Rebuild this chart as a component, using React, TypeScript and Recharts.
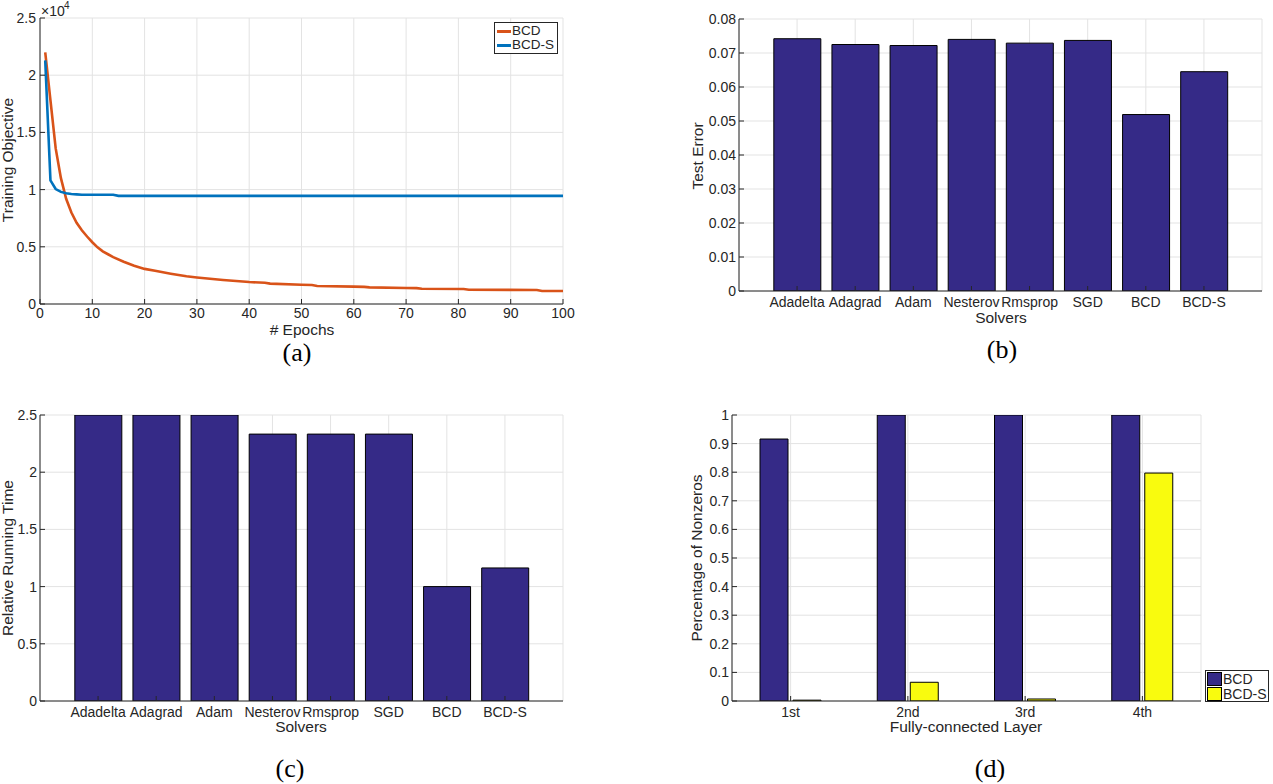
import React from 'react';
import { LineChart, Line, BarChart, Bar, XAxis, YAxis, CartesianGrid } from 'recharts';

const FONT = '"Liberation Sans", Arial, Helvetica, sans-serif';
const SERIF = '"Liberation Serif", "Times New Roman", serif';
const INK = '#262626';
const GRID = '#e3e3e3';
const NAVY = '#352A87';
const YELLOW = '#F9FB0E';
const ORANGE = '#D95319';
const BLUE = '#0072BD';

// (a) training objective vs epochs
const bcdEpochs = [1, 2, 3, 4, 5, 6, 7, 8, 9, 10, 11, 12, 13, 14, 16, 18, 20, 22, 25, 28, 30, 35, 40, 43, 44, 50, 52, 53, 60, 62, 63, 70, 72, 73, 81, 82, 95, 96, 100];
const bcdObjective = [22000, 17800, 13600, 11000, 9200, 8000, 7100, 6450, 5900, 5400, 4950, 4600, 4350, 4100, 3700, 3350, 3070, 2900, 2650, 2420, 2320, 2100, 1920, 1860, 1780, 1680, 1660, 1580, 1520, 1500, 1450, 1400, 1390, 1330, 1310, 1250, 1220, 1140, 1130];
const bcdsEpochs = [1, 2, 3, 4, 5, 6, 7, 8, 14, 15, 100];
const bcdsObjective = [21300, 10800, 10050, 9800, 9680, 9620, 9580, 9550, 9550, 9450, 9450];
const epochTicks = [0, 10, 20, 30, 40, 50, 60, 70, 80, 90, 100];
const objectiveTicks = [0, 5000, 10000, 15000, 20000, 25000];

// (b) and (c) solvers
const solvers = ['Adadelta', 'Adagrad', 'Adam', 'Nesterov', 'Rmsprop', 'SGD', 'BCD', 'BCD-S'];
const testError = [0.0742, 0.0725, 0.0722, 0.074, 0.0729, 0.0737, 0.0519, 0.0645];
const testErrorTicks = [0, 0.01, 0.02, 0.03, 0.04, 0.05, 0.06, 0.07, 0.08];
const relativeTime = [2.5, 2.5, 2.5, 2.333, 2.333, 2.333, 1.0, 1.163];
const timeTicks = [0, 0.5, 1, 1.5, 2, 2.5];

// (d) nonzeros per layer
const layers = ['1st', '2nd', '3rd', '4th'];
const nnzBCD = [0.916, 1, 1, 1];
const nnzBCDS = [0.003, 0.0655, 0.007, 0.797];
const nnzTicks = [0, 0.1, 0.2, 0.3, 0.4, 0.5, 0.6, 0.7, 0.8, 0.9, 1];

const bcdData = bcdEpochs.map((e, i) => ({ epoch: e, value: bcdObjective[i] }));
const bcdsData = bcdsEpochs.map((e, i) => ({ epoch: e, value: bcdsObjective[i] }));
const errData = solvers.map((s, i) => ({ name: s, value: testError[i] }));
const timeData = solvers.map((s, i) => ({ name: s, value: relativeTime[i] }));
const nnzData = layers.map((l, i) => ({ name: l, bcd: nnzBCD[i], bcds: nnzBCDS[i] }));

const tickStyle = { fill: INK, fontSize: 14, fontFamily: FONT };
const axisLine = { stroke: INK, strokeWidth: 1 };
const tickLine = { stroke: INK, strokeWidth: 1 };
const blank = () => '';

const abs = (left: number, top: number): React.CSSProperties => ({ position: 'absolute', left, top });

function Text({ x, y, children, size = 15.5, rotate = false, family = FONT }: any) {
  return (
    <div
      style={{
        position: 'absolute',
        left: x,
        top: y,
        transform: `translate(-50%, -50%)${rotate ? ' rotate(-90deg)' : ''}`,
        whiteSpace: 'nowrap',
        fontFamily: family,
        fontSize: size,
        color: family === FONT ? INK : '#000',
        lineHeight: 1,
      }}
    >
      {children}
    </div>
  );
}

function SolverChart({ data, ticks, domain, fmt, margin, width, height, yWidth }: any) {
  return (
    <BarChart width={width} height={height} data={data} margin={margin} barCategoryGap="10%">
      <CartesianGrid stroke={GRID} strokeWidth={1} />
      <XAxis dataKey="name" type="category" padding={{ left: 29, right: 29 }} height={30}
        axisLine={axisLine} tickLine={tickLine} tickSize={-5} tickMargin={11} tick={tickStyle} interval={0} />
      <XAxis xAxisId="top" dataKey="name" type="category" orientation="top" padding={{ left: 29, right: 29 }} height={0}
        axisLine={axisLine} tickLine={tickLine} tickSize={-5} tick={tickStyle} tickFormatter={blank} interval={0} />
      <YAxis type="number" domain={domain} ticks={ticks} width={yWidth} allowDataOverflow
        axisLine={axisLine} tickLine={tickLine} tickSize={-5} tickMargin={8} tick={tickStyle} tickFormatter={fmt} interval={0} />
      <YAxis yAxisId="right" orientation="right" type="number" domain={domain} ticks={ticks} width={0} allowDataOverflow
        axisLine={axisLine} tickLine={tickLine} tickSize={-5} tick={tickStyle} tickFormatter={blank} interval={0} />
      <Bar dataKey="value" fill={NAVY} stroke="#000" strokeWidth={1} isAnimationActive={false} />
    </BarChart>
  );
}

export default function App() {
  return (
    <div style={{ position: 'absolute', left: 0, top: 0, width: 1273, height: 784, background: '#fff', overflow: 'hidden' }}>
      {/* (a) */}
      <div style={abs(0, 0)}>
        <LineChart width={600} height={340} margin={{ top: 18, right: 37, bottom: 6, left: 0 }}>
          <CartesianGrid stroke={GRID} strokeWidth={1} />
          <XAxis dataKey="epoch" type="number" domain={[0, 100]} ticks={epochTicks} height={30}
            axisLine={axisLine} tickLine={tickLine} tickSize={-5} tickMargin={9} tick={tickStyle} interval={0} />
          <XAxis xAxisId="top" dataKey="epoch" type="number" orientation="top" domain={[0, 100]} ticks={epochTicks} height={0}
            axisLine={axisLine} tickLine={tickLine} tickSize={-5} tick={tickStyle} tickFormatter={blank} interval={0} />
          <YAxis type="number" domain={[0, 25000]} ticks={objectiveTicks} width={40}
            axisLine={axisLine} tickLine={tickLine} tickSize={-5} tickMargin={9} tick={tickStyle}
            tickFormatter={(v: number) => String(v / 10000)} interval={0} />
          <YAxis yAxisId="right" orientation="right" type="number" domain={[0, 25000]} ticks={objectiveTicks} width={0}
            axisLine={axisLine} tickLine={tickLine} tickSize={-5} tick={tickStyle} tickFormatter={blank} interval={0} />
          <Line data={bcdData} dataKey="value" type="linear" stroke={ORANGE} strokeWidth={2.6} dot={false} isAnimationActive={false} />
          <Line data={bcdsData} dataKey="value" type="linear" stroke={BLUE} strokeWidth={2.6} dot={false} isAnimationActive={false} />
        </LineChart>
      </div>
      <div style={{ position: 'absolute', left: 41, top: 4, fontFamily: FONT, fontSize: 14, color: INK, lineHeight: 1, whiteSpace: 'nowrap' }}>×10</div>
      <div style={{ position: 'absolute', left: 64, top: 1, fontFamily: FONT, fontSize: 10, color: INK, lineHeight: 1 }}>4</div>
      <div style={{ position: 'absolute', left: 494, top: 22, width: 62, height: 30, border: `1px solid ${INK}`, background: '#fff', fontFamily: FONT, fontSize: 13.5, color: INK }}>
        {[['BCD', ORANGE], ['BCD-S', BLUE]].map(([n, c], i) => (
          <div key={n} style={{ position: 'absolute', left: 2, top: 1 + i * 14, height: 14, display: 'flex', alignItems: 'center', whiteSpace: 'nowrap' }}>
            <div style={{ width: 14, height: 3, background: c, marginRight: 1 }} />
            <span style={{ lineHeight: 1 }}>{n}</span>
          </div>
        ))}
      </div>
      <Text x={302} y={329.5}># Epochs</Text>
      <Text x={8} y={160} rotate>Training Objective</Text>
      <Text x={297} y={352.5} size={26} family={SERIF}>(a)</Text>

      {/* (b) */}
      <div style={abs(680, 0)}>
        <SolverChart data={errData} ticks={testErrorTicks} domain={[0, 0.08]} fmt={(v: number) => String(v)}
          width={593} height={340} yWidth={59} margin={{ top: 19, right: 11, bottom: 19, left: 0 }} />
      </div>
      <Text x={1001} y={318}>Solvers</Text>
      <Text x={698} y={156} rotate>Test Error</Text>
      <Text x={1002} y={350} size={26} family={SERIF}>(b)</Text>

      {/* (c) */}
      <div style={abs(0, 400)}>
        <SolverChart data={timeData} ticks={timeTicks} domain={[0, 2.5]} fmt={(v: number) => String(v)}
          width={600} height={384} yWidth={40} margin={{ top: 15, right: 37, bottom: 53, left: 0 }} />
      </div>
      <Text x={301} y={727}>Solvers</Text>
      <Text x={8} y={558} rotate>Relative Running Time</Text>
      <Text x={290} y={769} size={26} family={SERIF}>(c)</Text>

      {/* (d) */}
      <div style={abs(680, 400)}>
        <BarChart width={593} height={384} data={nnzData} margin={{ top: 15, right: 72, bottom: 53, left: 0 }} barSize={28} barGap={5}>
          <CartesianGrid stroke={GRID} strokeWidth={1} />
          <XAxis dataKey="name" type="category" height={30}
            axisLine={axisLine} tickLine={tickLine} tickSize={-5} tickMargin={11} tick={tickStyle} interval={0} />
          <XAxis xAxisId="top" dataKey="name" type="category" orientation="top" height={0}
            axisLine={axisLine} tickLine={tickLine} tickSize={-5} tick={tickStyle} tickFormatter={blank} interval={0} />
          <YAxis type="number" domain={[0, 1]} ticks={nnzTicks} width={52} allowDataOverflow
            axisLine={axisLine} tickLine={tickLine} tickSize={-5} tickMargin={8} tick={tickStyle} tickFormatter={(v: number) => String(v)} interval={0} />
          <YAxis yAxisId="right" orientation="right" type="number" domain={[0, 1]} ticks={nnzTicks} width={0} allowDataOverflow
            axisLine={axisLine} tickLine={tickLine} tickSize={-5} tick={tickStyle} tickFormatter={blank} interval={0} />
          <Bar dataKey="bcd" fill={NAVY} stroke="#000" strokeWidth={1} isAnimationActive={false} />
          <Bar dataKey="bcds" fill={YELLOW} stroke="#000" strokeWidth={1} isAnimationActive={false} />
        </BarChart>
      </div>
      <div style={{ position: 'absolute', left: 1205, top: 670, width: 62, height: 30, border: `1px solid ${INK}`, background: '#fff', fontFamily: FONT, fontSize: 14, color: INK }}>
        {[['BCD', NAVY], ['BCD-S', YELLOW]].map(([n, c], i) => (
          <div key={n} style={{ position: 'absolute', left: 1, top: 1 + i * 15, height: 14, display: 'flex', alignItems: 'center', whiteSpace: 'nowrap' }}>
            <div style={{ width: 13, height: 12, background: c, border: '1px solid #000', marginRight: 1 }} />
            <span style={{ lineHeight: 1 }}>{n}</span>
          </div>
        ))}
      </div>
      <Text x={966} y={727}>Fully-connected Layer</Text>
      <Text x={697} y={558} rotate>Percentage of Nonzeros</Text>
      <Text x={990} y={769} size={26} family={SERIF}>(d)</Text>
    </div>
  );
}
